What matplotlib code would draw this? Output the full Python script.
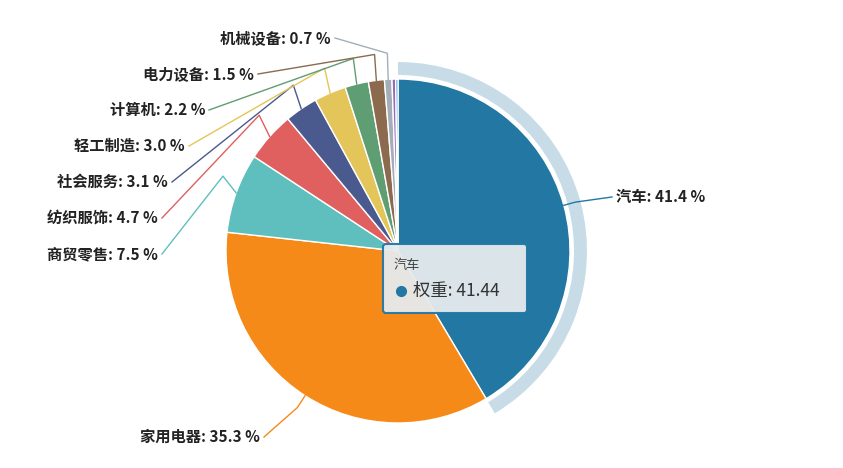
import numpy as np
import matplotlib
matplotlib.use("Agg")
import matplotlib.pyplot as plt
from matplotlib.patches import Wedge, FancyBboxPatch

plt.rcParams["font.family"] = ["Noto Sans CJK SC", "DejaVu Sans"]

names = ["汽车", "家用电器", "商贸零售", "纺织服饰", "社会服务", "轻工制造",
         "计算机", "电力设备", "机械设备", "其他1", "其他2"]
weights = [41.44, 35.3, 7.5, 4.7, 3.1, 3.0, 2.2, 1.5, 0.7, 0.35, 0.21]
colors = ["#2277a3", "#f68a18", "#5fbfbf", "#e05f5f", "#4a5a8e", "#e4c55a",
          "#5f9e72", "#8b6a4e", "#a3aeb8", "#9a6bb5", "#3d8fd6"]
# label anchor (pixel coords of the text end), None = unlabeled
label_pos = [(612, 197), (264, 437), (162, 254), (162, 218), (172, 182),
             (189, 146), (209, 110), (258, 74), (335, 38), None, None]

W, H = 843, 468
cx, cy, R = 398, H - 251, 172

fig = plt.figure(figsize=(W / 100, H / 100), dpi=100)
ax = fig.add_axes([0, 0, 1, 1])
ax.set_xlim(0, W)
ax.set_ylim(0, H)
ax.set_aspect("equal")
ax.axis("off")

total = sum(weights)
start = 90.0
for i, (n, w, c) in enumerate(zip(names, weights, colors)):
    span = 360 * w / total
    t1, t2 = start - span, start
    if i == 0:
        ax.add_patch(Wedge((cx, cy), R + 17, t1, t2, width=13, facecolor=c, alpha=0.25, lw=0))
    ax.add_patch(Wedge((cx, cy), R, t1, t2, facecolor=c, edgecolor="white", lw=1))
    mid = np.radians((t1 + t2) / 2)
    if label_pos[i] is not None:
        lx, ly = label_pos[i]
        ly = H - ly
        rr = R + (20 if i == 0 else 14)
        x0, y0 = cx + R * np.cos(mid), cy + R * np.sin(mid)
        x1, y1 = cx + rr * np.cos(mid), cy + rr * np.sin(mid)
        if i == 0:
            x1, y1 = cx + (R + 12) * np.cos(mid), cy + (R + 12) * np.sin(mid)
        ax.plot([x0, x1, lx], [y0, y1 + (12 if 1 <= i else 0) * (0 if i in (0, 1) else 1), ly],
                color=c, lw=1)
        txt = f"{n}: {w:.1f} %"
        ha = "left" if lx > cx else "right"
        ax.text(lx + (4 if ha == "left" else -4), ly, txt, ha=ha, va="center",
                fontsize=11, fontweight="bold", color="#222222")
    start = t1

# tooltip
ax.add_patch(FancyBboxPatch((383, H - 313), 144, 69, boxstyle="round,pad=0,rounding_size=3",
                            facecolor="#e6ebee", edgecolor="#2277a3", lw=1.5, alpha=0.95))
ax.text(394, H - 266, "汽车", fontsize=9.5, color="#444444", va="center")
ax.plot([401], [H - 291], "o", color="#2277a3", ms=7)
ax.text(413, H - 291, "权重: 41.44", fontsize=12.5, color="#333333", va="center")

fig.savefig("out.png", dpi=100)
